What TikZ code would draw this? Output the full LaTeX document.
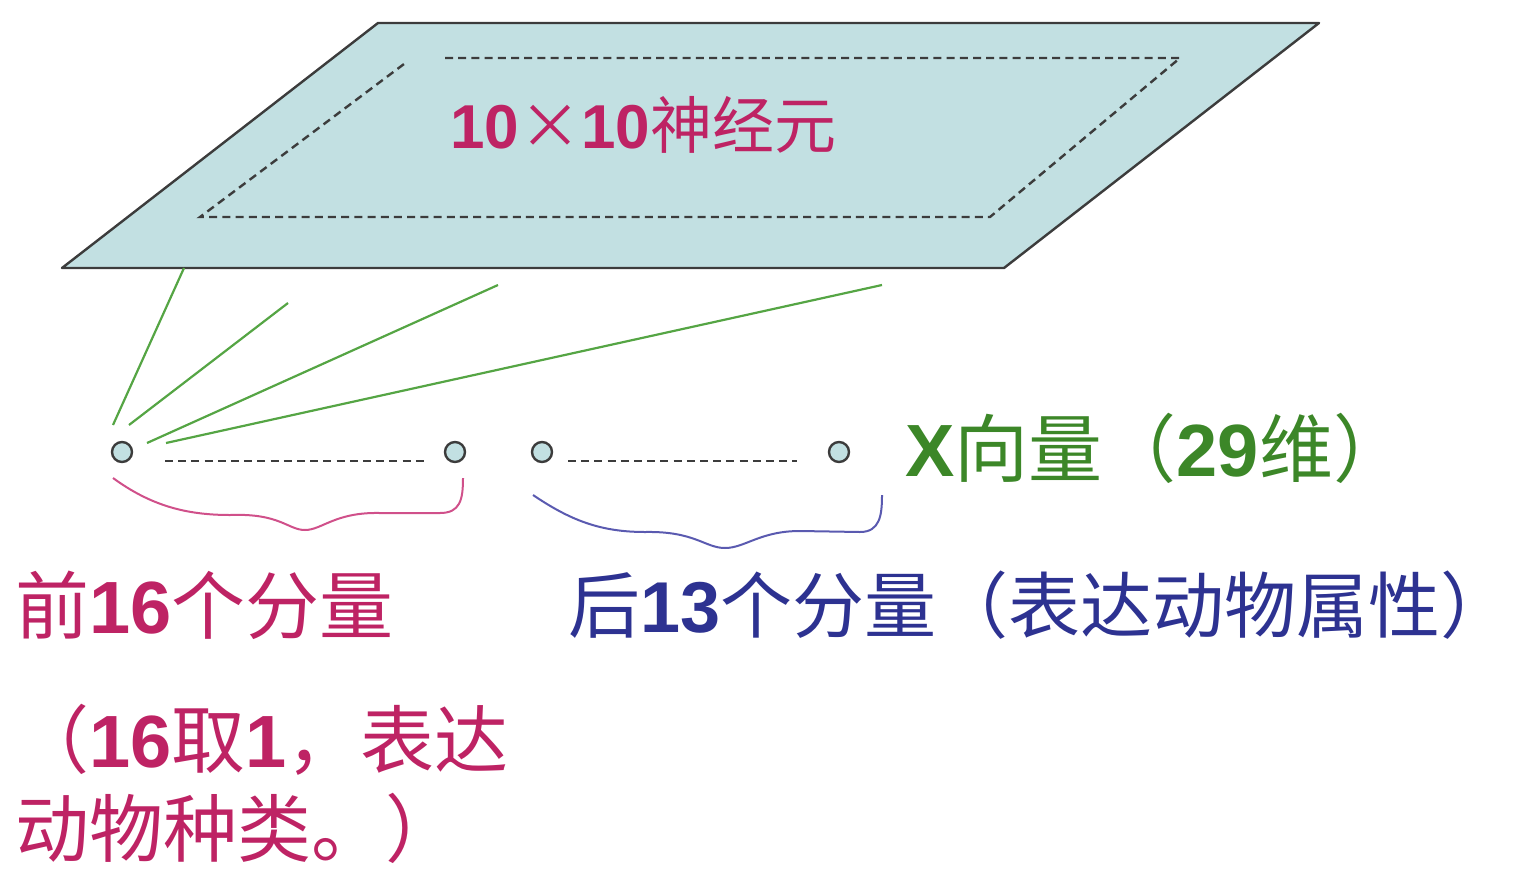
\documentclass[tikz,border=0pt]{standalone}
\usepackage{fontspec}
\setmainfont{Liberation Sans}
\newfontfamily\cjk{Noto Sans CJK SC}
\usepackage{tikz}
\usetikzlibrary{positioning,calc}
\usepackage{xcolor}

\definecolor{planefill}{HTML}{C2E0E2}
\definecolor{edgegray}{HTML}{3C3C3C}
\definecolor{rosered}{HTML}{BE2364}
\definecolor{leafgreen}{HTML}{3C8728}
\definecolor{inkblue}{HTML}{2D3291}
\definecolor{linkgreen}{HTML}{55A544}
\definecolor{bracepink}{HTML}{D0508A}
\definecolor{braceblue}{HTML}{5A5AB0}

\newcommand{\dg}[1]{{\rmfamily\bfseries #1}}

\tikzset{
    unit/.style={circle, draw=edgegray, line width=1.2pt, fill=planefill, minimum size=10pt, inner sep=0pt},
    gapline/.style={edgegray, line width=1.2pt, dash pattern=on 4pt off 2.6pt},
    link/.style={linkgreen, line width=1.1pt},
    label/.style={anchor=west, inner sep=0pt, font=\cjk\fontsize{37}{44}\selectfont}
}

\begin{document}
\begin{tikzpicture}[x=0.5pt, y=-0.5pt]
    \useasboundingbox (0,0) rectangle (1518,878);

    % Map plane
    \draw[edgegray, line width=1.2pt, fill=planefill, line join=round]
        (378,23) -- (1319,23) -- (1004,268) -- (62,268) -- cycle;
    \draw[gapline] (445,58) -- (1180,58) -- (990,217) -- (200,217) -- (408,61);
    \node[label, rosered, font=\cjk\fontsize{31}{38}\selectfont] (map) at (450,125)
        {\dg{10}×\dg{10}神经元};

    % Input units
    \node[unit] (c1) at (122,452) {};
    \node[unit] (c2) at (455,452) {};
    \node[unit] (c3) at (542,452) {};
    \node[unit] (c4) at (839,452) {};
    \draw[gapline] ($(c1)+(43,9)$) -- ($(c2)+(-27,9)$);
    \draw[gapline] ($(c3)+(26,9)$) -- ($(c4)+(-42,9)$);

    % Links to the plane
    \coordinate (p1) at (184,268);
    \coordinate (p2) at (288,303);
    \coordinate (p3) at (498,285);
    \coordinate (p4) at (882,285);
    \draw[link] ($(c1)+(-9,-27)$) -- (p1);
    \draw[link] ($(c1)+(7,-27)$) -- (p2);
    \draw[link] ($(c1)+(25,-9)$) -- (p3);
    \draw[link] ($(c1)+(44,-9)$) -- (p4);

    \node[label, leafgreen] (xvec) at (905,448) {\dg{X}向量（\dg{29}维）};

    % Braces
    \draw[bracepink, line width=1pt]
        (113,478) .. controls (150,505) and (185,515) .. (230,515)
        .. controls (280,513) and (288,530) .. (305,530)
        .. controls (322,530) and (335,512) .. (380,513)
        -- (440,513) .. controls (460,513) and (463,500) .. (463,478);
    \draw[braceblue, line width=1pt]
        (533,495) .. controls (570,520) and (600,532) .. (645,532)
        .. controls (695,531) and (705,548) .. (725,548)
        .. controls (745,548) and (760,531) .. (800,531)
        -- (860,532) .. controls (880,532) and (882,515) .. (882,495);

    % Texts
    \node[label, rosered] (front) at (15,605) {前\dg{16}个分量};
    \node[label, inkblue, font=\cjk\fontsize{36}{44}\selectfont] (back) at (568,605)
        {后\dg{13}个分量（表达动物属性）};
    \node[label, rosered] (kind1) at (15,740) {（\dg{16}取\dg{1}，表达};
    \node[label, rosered] (kind2) at (15,828) {动物种类。）};
\end{tikzpicture}
\end{document}
